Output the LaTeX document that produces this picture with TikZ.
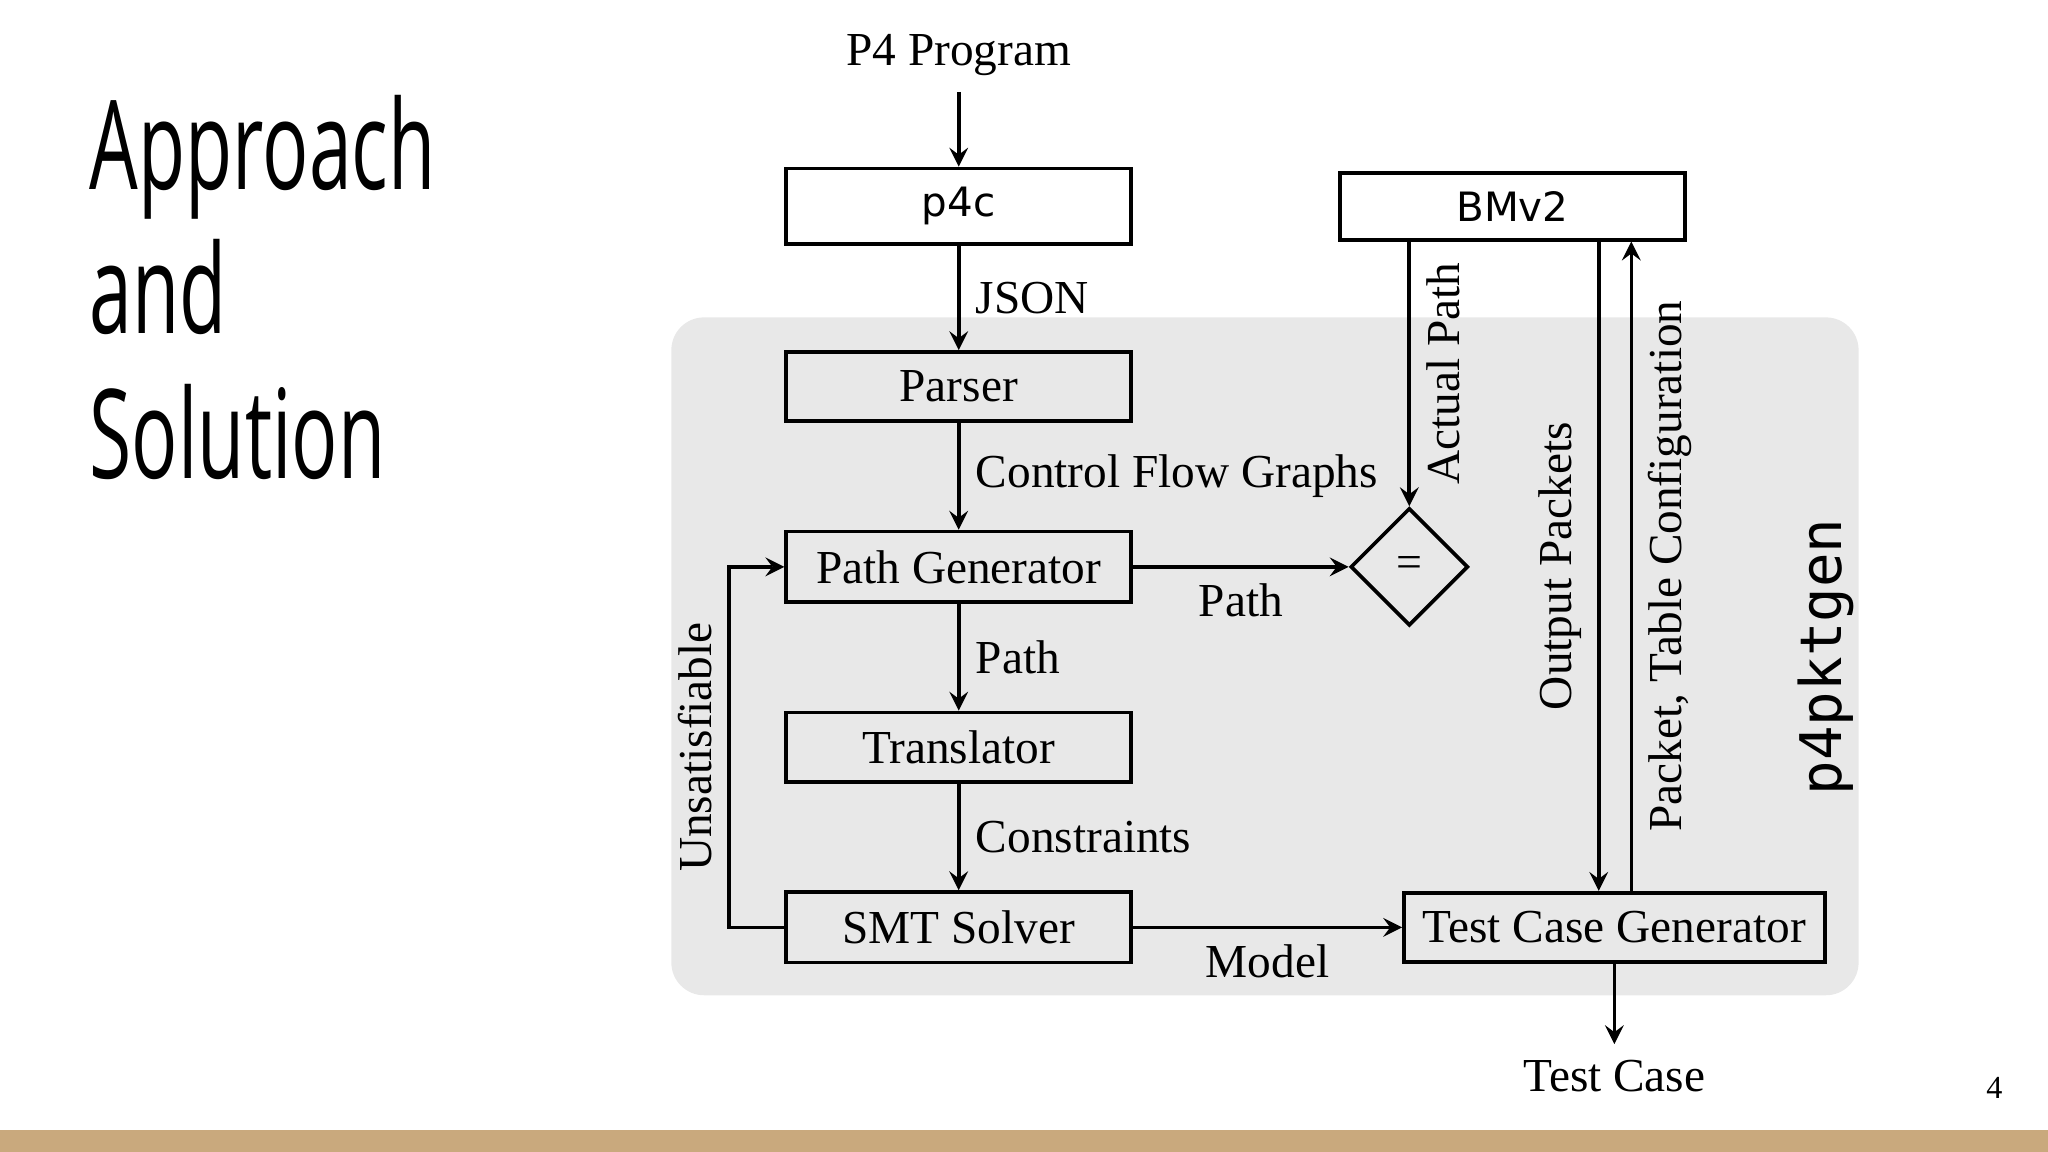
\documentclass[tikz,border=0pt]{standalone}
\usepackage{fontspec}
\setmainfont{Liberation Serif}
\newfontfamily\titlefont{Open Sans}[FakeStretch=0.62]
\newfontfamily\boxsans{DejaVu Sans}
\newfontfamily\monofont{DejaVu Sans Mono}
\usetikzlibrary{shapes.geometric}
\definecolor{bartan}{RGB}{201,169,125}
\definecolor{regiongrey}{RGB}{232,232,232}
\begin{document}
\begin{tikzpicture}[x=0.01cm, y=-0.01cm,
    stage/.style={draw, thick, rectangle, minimum width=2.64cm, minimum height=0.53cm, font=\fontsize{10.3}{12}\selectfont},
    lbl/.style={font=\fontsize{10.3}{12}\selectfont},
    flow/.style={->, >=stealth, thick}]

    % Page and background
    \useasboundingbox (0,0) rectangle (1568,882);
    \fill[bartan] (0,865) rectangle (1568,882);
    \fill[regiongrey, rounded corners=0.25cm] (514,243) rectangle (1423,762);

    % Title
    \node[anchor=north west, align=left, inner sep=0pt, font=\titlefont\fontsize{27}{31.5}\selectfont] (title) at (68,72) {Approach\\and\\Solution};
    \node[font=\fontsize{7}{8}\selectfont] (page_num) at (1527,833) {4};

    % Left column of stages
    \node[lbl] (prog) at (734,42) {P4 Program};
    \node[stage, minimum height=0.58cm, font=\boxsans\fontsize{8.8}{10}\selectfont] (p4c) at (734,158) {p4c};
    \node[stage] (parser) at (734,296) {Parser};
    \node[stage, minimum height=0.54cm] (pathgen) at (734,434) {Path Generator};
    \node[stage] (translator) at (734,572) {Translator};
    \node[stage, minimum height=0.54cm] (smt) at (734,710) {SMT Solver};

    % Right side
    \node[stage, minimum height=0.51cm, font=\boxsans\fontsize{8.8}{10}\selectfont] (bmv2) at (1158,158) {BMv2};
    \node[draw, thick, diamond, minimum size=0.9cm, inner sep=0pt] (equal) at (1079,434) {=};
    \node[stage, minimum width=3.22cm] (tcgen) at (1236,710) {Test Case Generator};
    \node[lbl] (testcase) at (1236,824) {Test Case};
    \node[rotate=90, font=\monofont\fontsize{12.5}{14}\selectfont] (tool) at (1398,503) {p4pktgen};

    % Main flow
    \draw[flow] (prog) -- (p4c);
    \draw[flow] (p4c) -- node[lbl, right] {JSON} (parser);
    \draw[flow] (parser) -- node[lbl, right] {Control Flow Graphs} (pathgen);
    \draw[flow] (pathgen) -- node[lbl, right] {Path} (translator);
    \draw[flow] (translator) -- node[lbl, right] {Constraints} (smt);
    \draw[flow] (pathgen) -- node[lbl, below, pos=0.5] {Path} (equal);
    \draw[flow] (smt) -- node[lbl, below, pos=0.5] {Model} (tcgen);
    \draw[flow] (tcgen) -- (testcase);
    \draw[flow] (smt.west) -- (558,710) |- node[lbl, rotate=90, above, pos=0.25] {Unsatisfiable} (pathgen.west);

    % BMv2 links
    \draw[flow] (bmv2.south -| equal) -- node[lbl, rotate=90, below, pos=0.5] {Actual Path} (equal.north);
    \draw[flow] (bmv2.south -| 1224,0) -- node[lbl, rotate=90, above, pos=0.5] {Output Packets} (tcgen.north -| 1224,0);
    \draw[flow] (tcgen.north -| 1249,0) -- node[lbl, rotate=90, below, pos=0.5] {Packet, Table Configuration} (bmv2.south -| 1249,0);

\end{tikzpicture}
\end{document}
